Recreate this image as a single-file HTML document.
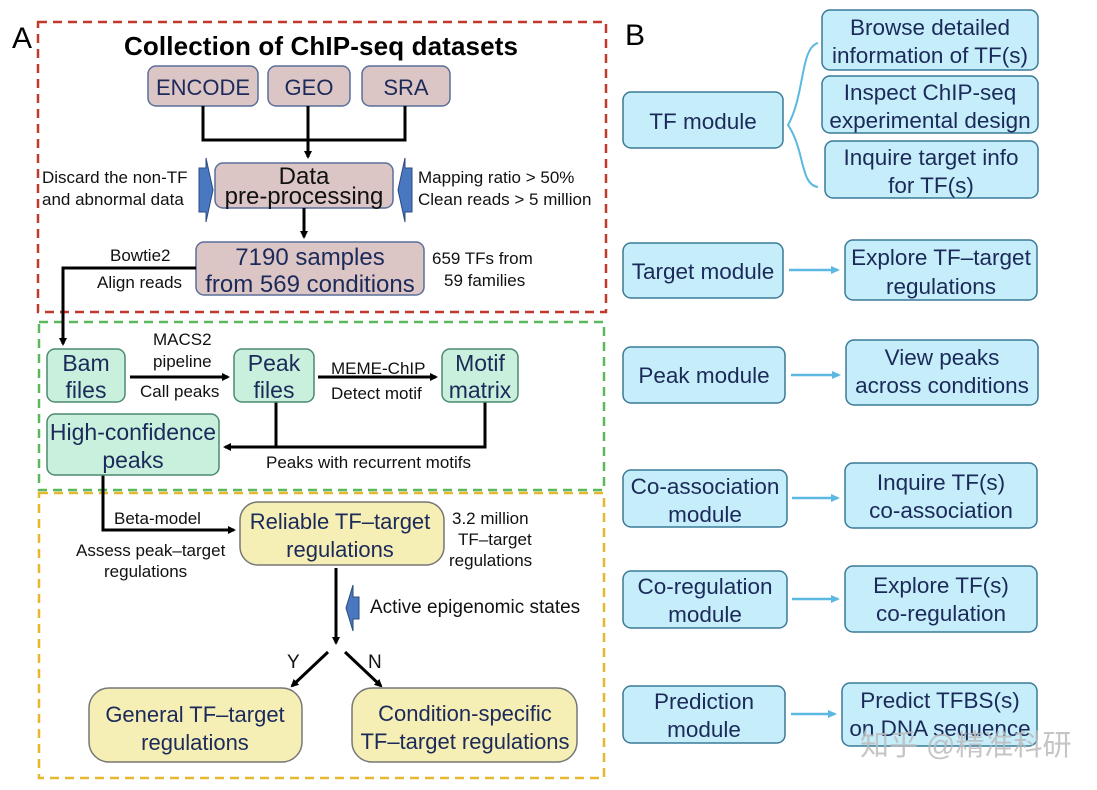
<!DOCTYPE html>
<html><head><meta charset="utf-8"><style>
body{margin:0;background:#fff}
svg{display:block;font-family:"Liberation Sans",Arial,sans-serif}
.t{fill:#1c2a5a;text-anchor:middle}
.s{fill:#111;font-size:17px}
</style></head><body>
<svg width="1097" height="790" viewBox="0 0 1097 790" xmlns="http://www.w3.org/2000/svg">
<defs>
<marker id="ah" markerWidth="8" markerHeight="8" refX="6" refY="4" orient="auto" markerUnits="userSpaceOnUse"><path d="M0,0 L8,4 L0,8 z" fill="#000"/></marker>
<marker id="bh" markerWidth="9" markerHeight="8" refX="7" refY="4" orient="auto" markerUnits="userSpaceOnUse"><path d="M0,0 L9,4 L0,8 z" fill="#5bb8e0"/></marker>
</defs>
<text x="12" y="48" font-size="30" fill="#000">A</text>
<text x="625" y="45" font-size="30" fill="#000">B</text>
<rect x="38" y="22" width="568" height="290" fill="none" stroke="#c0392b" stroke-width="2.5" stroke-dasharray="9,6"/>
<rect x="39" y="322" width="565" height="168" fill="none" stroke="#5cb85c" stroke-width="2.5" stroke-dasharray="9,6"/>
<rect x="39" y="493" width="565" height="285" fill="none" stroke="#e6b830" stroke-width="2.5" stroke-dasharray="9,6"/>
<text x="321" y="55" font-size="26" font-weight="bold" text-anchor="middle" fill="#000" textLength="394">Collection of ChIP-seq datasets</text>
<g fill="#dcc5c5" stroke="#5a6f9a" stroke-width="1.5">
<rect x="148" y="66" width="110" height="40" rx="8"/>
<rect x="268" y="66" width="82" height="40" rx="8"/>
<rect x="362" y="66" width="88" height="40" rx="8"/>
<rect x="215" y="163" width="178" height="45" rx="8"/>
<rect x="196" y="242" width="228" height="53" rx="8"/>
</g>
<g class="t" font-size="22">
<text x="203" y="95">ENCODE</text><text x="309" y="95">GEO</text><text x="406" y="95">SRA</text>
<text x="304" y="184" fill="#111" font-size="24">Data</text><text x="304" y="204" fill="#111" font-size="24">pre-processing</text>
<text x="310" y="265" font-size="24">7190 samples</text><text x="310" y="292" font-size="24">from 569 conditions</text>
</g>
<g stroke="#000" stroke-width="3" fill="none">
<path d="M203,106 V140 H405 V106 M308,106 V140"/>
<line x1="308" y1="140" x2="308" y2="157" marker-end="url(#ah)"/>
<line x1="304" y1="208" x2="304" y2="237" marker-end="url(#ah)"/>
<path d="M196,268 H63 V344" marker-end="url(#ah)"/>
<line x1="130" y1="377" x2="228" y2="377" marker-end="url(#ah)"/>
<line x1="318" y1="377" x2="436" y2="377" marker-end="url(#ah)"/>
<path d="M276,402 V447 M485,402 V447 H225" marker-end="url(#ah)"/>
<path d="M103,475 V530 H234" marker-end="url(#ah)"/>
<line x1="336" y1="568" x2="336" y2="643" marker-end="url(#ah)"/>
<line x1="328" y1="652" x2="292" y2="686" marker-end="url(#ah)"/>
<line x1="345" y1="652" x2="381" y2="686" marker-end="url(#ah)"/>
</g>
<g fill="#4a78c0" stroke="#2a4a80" stroke-width="1">
<path d="M199,168 h7 v-10 l7,32 -7,32 v-10 h-7 z"/>
<path d="M412,168 h-7 v-10 l-7,32 7,32 v-10 h7 z"/>
<path d="M359,597 h-6 v-12 l-7,23 7,23 v-12 h6 z"/>
</g>
<g class="s">
<text x="42" y="183">Discard the non-TF</text><text x="42" y="205">and abnormal data</text>
<text x="418" y="183">Mapping ratio &gt; 50%</text><text x="418" y="205">Clean reads &gt; 5 million</text>
<text x="110" y="261">Bowtie2</text><text x="97" y="288">Align reads</text>
<text x="432" y="264">659 TFs from</text><text x="444" y="286">59 families</text>
<text x="153" y="345">MACS2</text><text x="153" y="367">pipeline</text><text x="140" y="397">Call peaks</text>
<text x="331" y="374">MEME-ChIP</text><text x="331" y="399">Detect motif</text>
<text x="266" y="468">Peaks with recurrent motifs</text>
<text x="114" y="524">Beta-model</text>
<text x="76" y="556">Assess peak–target</text><text x="104" y="577">regulations</text>
<text x="452" y="524">3.2 million</text><text x="458" y="545">TF–target</text><text x="449" y="566">regulations</text>
<text x="370" y="613" font-size="19">Active epigenomic states</text>
<text x="287" y="668" font-size="19">Y</text><text x="368" y="668" font-size="19">N</text>
</g>
<g fill="#c8f0dc" stroke="#4a8a70" stroke-width="1.5">
<rect x="47" y="349" width="78" height="53" rx="8"/>
<rect x="234" y="349" width="80" height="53" rx="8"/>
<rect x="442" y="349" width="76" height="53" rx="8"/>
<rect x="47" y="414" width="172" height="61" rx="8"/>
</g>
<g class="t" font-size="23">
<text x="86" y="371">Bam</text><text x="86" y="398">files</text>
<text x="274" y="371">Peak</text><text x="274" y="398">files</text>
<text x="480" y="371">Motif</text><text x="480" y="398">matrix</text>
<text x="133" y="440">High-confidence</text><text x="133" y="468">peaks</text>
</g>
<g fill="#f5eeb5" stroke="#777" stroke-width="1.5">
<rect x="240" y="502" width="204" height="63" rx="18"/>
<rect x="89" y="688" width="213" height="74" rx="20"/>
<rect x="352" y="688" width="225" height="74" rx="20"/>
</g>
<g class="t" font-size="22">
<text x="340" y="529">Reliable TF–target</text><text x="340" y="557">regulations</text>
<text x="195" y="722">General TF–target</text><text x="195" y="750">regulations</text>
<text x="465" y="721">Condition-specific</text><text x="465" y="749">TF–target regulations</text>
</g>
<g fill="#c5eefa" stroke="#3a7a98" stroke-width="1.5">
<rect x="623" y="92" width="160" height="56" rx="8"/>
<rect x="822" y="10" width="216" height="60" rx="8"/>
<rect x="822" y="76" width="216" height="57" rx="8"/>
<rect x="825" y="141" width="213" height="57" rx="8"/>
<rect x="623" y="243" width="160" height="55" rx="8"/>
<rect x="845" y="240" width="192" height="60" rx="8"/>
<rect x="623" y="347" width="162" height="56" rx="8"/>
<rect x="846" y="340" width="192" height="65" rx="8"/>
<rect x="623" y="470" width="164" height="57" rx="8"/>
<rect x="845" y="463" width="192" height="65" rx="8"/>
<rect x="623" y="571" width="164" height="57" rx="8"/>
<rect x="845" y="566" width="192" height="66" rx="8"/>
<rect x="623" y="686" width="162" height="57" rx="8"/>
<rect x="842" y="683" width="195" height="63" rx="8"/>
</g>
<path d="M818,43 C800,48 805,95 788,125 C805,150 800,185 818,187" fill="none" stroke="#5bb8e0" stroke-width="2"/>
<g stroke="#5bb8e0" stroke-width="2.5">
<line x1="789" y1="270" x2="838" y2="270" marker-end="url(#bh)"/>
<line x1="791" y1="375" x2="839" y2="375" marker-end="url(#bh)"/>
<line x1="792" y1="498" x2="838" y2="498" marker-end="url(#bh)"/>
<line x1="792" y1="599" x2="838" y2="599" marker-end="url(#bh)"/>
<line x1="791" y1="714" x2="835" y2="714" marker-end="url(#bh)"/>
</g>
<g class="t" font-size="22.5">
<text x="703" y="129">TF module</text>
<text x="930" y="35">Browse detailed</text><text x="930" y="63">information of TF(s)</text>
<text x="930" y="100">Inspect ChIP-seq</text><text x="930" y="128">experimental design</text>
<text x="931" y="165">Inquire target info</text><text x="931" y="193">for TF(s)</text>
<text x="703" y="279">Target module</text>
<text x="941" y="265">Explore TF–target</text><text x="941" y="294">regulations</text>
<text x="704" y="383">Peak module</text>
<text x="942" y="365">View peaks</text><text x="942" y="393">across conditions</text>
<text x="705" y="494">Co-association</text><text x="705" y="522">module</text>
<text x="941" y="490">Inquire TF(s)</text><text x="941" y="518">co-association</text>
<text x="705" y="594">Co-regulation</text><text x="705" y="622">module</text>
<text x="941" y="593">Explore TF(s)</text><text x="941" y="621">co-regulation</text>
<text x="704" y="709">Prediction</text><text x="704" y="737">module</text>
<text x="940" y="708">Predict TFBS(s)</text><text x="940" y="736">on DNA sequence</text>
</g>
<text x="860" y="755" font-size="29" fill="#bbb" fill-opacity="0.85" font-family="'Liberation Sans','Noto Sans CJK SC',sans-serif">知乎 @精准科研</text>
</svg>
</body></html>
